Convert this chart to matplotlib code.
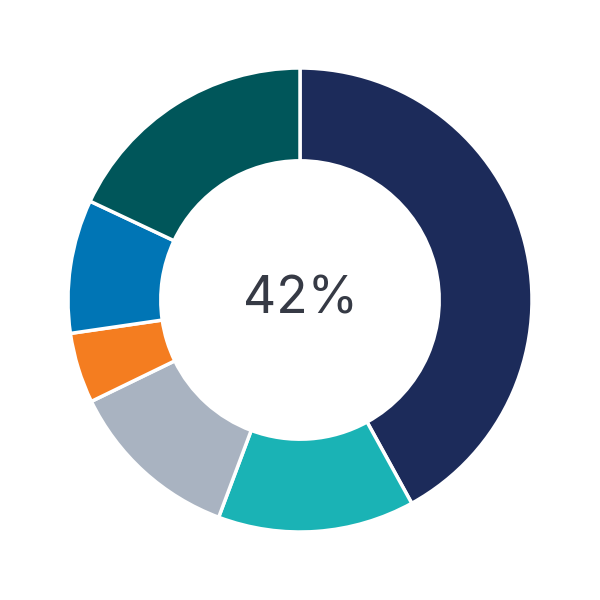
import matplotlib
matplotlib.use("Agg")
import matplotlib.pyplot as plt

# slice shares, clockwise from the top
labels = ["Navy", "Teal", "Gray", "Orange", "Blue", "Green"]
values = [42.0, 13.7, 12.1, 4.9, 9.3, 18.0]
colors = ["#1c2b5a", "#1ab3b5", "#a9b3c1", "#f47d20", "#0075b5", "#00565a"]
center_text = "42%"

fig = plt.figure(figsize=(6, 6), dpi=100)
ax = fig.add_axes([0, 0, 1, 1])

ax.pie(values, colors=colors, startangle=90, counterclock=False,
       radius=1.0,
       wedgeprops=dict(width=0.4, edgecolor="white", linewidth=2.5))

ax.text(0, 0, center_text, ha="center", va="center", fontsize=37,
        color="#363a45", family=["Inter", "DejaVu Sans"])

lim = 300 / 232
ax.set_xlim(-lim, lim)
ax.set_ylim(-lim, lim)
ax.set_aspect("equal")
ax.axis("off")

plt.savefig("out.png", dpi=100, facecolor="white")
